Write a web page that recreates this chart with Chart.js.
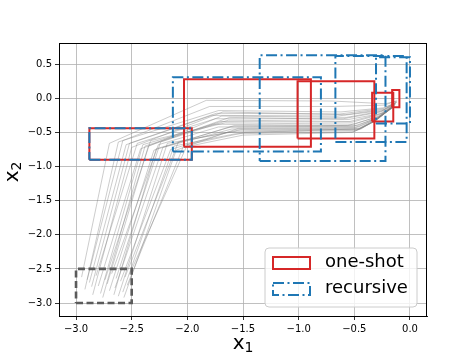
<!DOCTYPE html>
<html><head><meta charset="utf-8">
<script src="https://cdn.jsdelivr.net/npm/chart.js@4/dist/chart.umd.min.js"></script>
<style>html,body{margin:0;padding:0;background:#fff}#wrap{width:474px;height:355px;position:relative}</style>
</head><body><div id="wrap"><canvas id="c" width="474" height="355"></canvas></div>
<script>
// ---- data ----
const xTicks = [-3.0, -2.5, -2.0, -1.5, -1.0, -0.5, 0.0];
const yTicks = [-3.0, -2.5, -2.0, -1.5, -1.0, -0.5, 0.0, 0.5];
const xRange = [-3.153, 0.153];
const yRange = [-3.19, 0.81];
const seriesNames = ['one-shot', 'recursive'];
const axisNames = ['x', 'x'];
const axisSubs = ['1', '2'];
// boxes: [xmin, xmax, ymin, ymax]
const initialSet = [-3.0, -2.5, -3.0, -2.5];
const oneShotBoxes = [
  [-2.88, -1.96, -0.90, -0.44],
  [-2.03, -0.89, -0.71, 0.28],
  [-1.01, -0.32, -0.59, 0.25],
  [-0.34, -0.15, -0.34, 0.08],
  [-0.16, -0.095, -0.13, 0.12]
];
const recursiveBoxes = [
  [-2.88, -1.96, -0.90, -0.44],
  [-2.13, -0.80, -0.78, 0.31],
  [-1.35, -0.22, -0.92, 0.63],
  [-0.67, -0.03, -0.64, 0.62],
  [-0.305, 0.0, -0.37, 0.60]
];
// sampled trajectories: [x, y] per time step
const trajectories = [
  [[-2.95,-2.62],[-2.70,-0.66],[-1.83,-0.03],[-0.70,-0.04],[-0.22,-0.08],[-0.12,-0.04]],
  [[-2.92,-2.80],[-2.62,-0.64],[-1.72,-0.18],[-0.62,-0.20],[-0.24,-0.14],[-0.12,-0.06]],
  [[-2.88,-2.70],[-2.55,-0.68],[-1.78,-0.25],[-0.65,-0.26],[-0.25,-0.18],[-0.13,-0.07]],
  [[-2.85,-2.88],[-2.50,-0.72],[-1.68,-0.20],[-0.58,-0.24],[-0.23,-0.16],[-0.12,-0.05]],
  [[-2.82,-2.60],[-2.45,-0.66],[-1.75,-0.30],[-0.60,-0.30],[-0.26,-0.20],[-0.13,-0.08]],
  [[-2.80,-2.75],[-2.42,-0.74],[-1.62,-0.28],[-0.55,-0.31],[-0.25,-0.22],[-0.13,-0.09]],
  [[-2.76,-2.92],[-2.38,-0.70],[-1.70,-0.34],[-0.52,-0.35],[-0.27,-0.24],[-0.14,-0.10]],
  [[-2.74,-2.66],[-2.33,-0.62],[-1.66,-0.36],[-0.50,-0.38],[-0.28,-0.26],[-0.14,-0.11]],
  [[-2.70,-2.82],[-2.30,-0.76],[-1.58,-0.40],[-0.47,-0.40],[-0.29,-0.28],[-0.14,-0.12]],
  [[-2.68,-2.57],[-2.26,-0.68],[-1.72,-0.42],[-0.46,-0.42],[-0.30,-0.30],[-0.15,-0.12]],
  [[-2.65,-2.78],[-2.22,-0.72],[-1.60,-0.45],[-0.45,-0.44],[-0.30,-0.31],[-0.15,-0.13]],
  [[-2.62,-2.90],[-2.18,-0.66],[-1.55,-0.48],[-0.44,-0.45],[-0.31,-0.32],[-0.15,-0.13]],
  [[-2.60,-2.68],[-2.15,-0.75],[-1.64,-0.50],[-0.48,-0.47],[-0.31,-0.33],[-0.15,-0.12]],
  [[-2.58,-2.84],[-2.12,-0.70],[-1.57,-0.52],[-0.50,-0.49],[-0.32,-0.33],[-0.16,-0.13]],
  [[-2.56,-2.62],[-2.08,-0.64],[-1.52,-0.46],[-0.46,-0.46],[-0.30,-0.32],[-0.15,-0.12]],
  [[-2.54,-2.74],[-2.04,-0.72],[-1.50,-0.54],[-0.52,-0.50],[-0.32,-0.34],[-0.16,-0.13]],
  [[-2.52,-2.58],[-2.00,-0.68],[-1.48,-0.50],[-0.47,-0.45],[-0.30,-0.31],[-0.15,-0.12]],
  [[-2.90,-2.66],[-2.58,-0.62],[-1.80,-0.12],[-0.68,-0.12],[-0.23,-0.10],[-0.12,-0.04]],
  [[-2.78,-2.86],[-2.40,-0.68],[-1.76,-0.38],[-0.56,-0.40],[-0.28,-0.27],[-0.14,-0.10]],
  [[-2.72,-2.72],[-2.35,-0.70],[-1.69,-0.26],[-0.57,-0.28],[-0.26,-0.19],[-0.13,-0.08]],
  [[-2.64,-2.64],[-2.24,-0.64],[-1.63,-0.32],[-0.54,-0.34],[-0.27,-0.23],[-0.14,-0.09]],
  [[-2.57,-2.92],[-2.10,-0.76],[-1.54,-0.44],[-0.49,-0.43],[-0.30,-0.30],[-0.15,-0.11]],
  [[-2.86,-2.76],[-2.52,-0.66],[-1.74,-0.22],[-0.63,-0.23],[-0.24,-0.15],[-0.12,-0.06]],
  [[-2.66,-2.88],[-2.28,-0.74],[-1.61,-0.42],[-0.51,-0.41],[-0.29,-0.29],[-0.14,-0.11]]
];

// ---- styles ----
const RED = '#d62728', BLUE = '#1f77b4';
const FONT = "'DejaVu Sans', 'Liberation Sans', sans-serif";
const BLUE_DASH = [11, 3.5, 2, 3.5];

function boxPoints(b) {
  return [{x:b[0],y:b[2]},{x:b[1],y:b[2]},{x:b[1],y:b[3]},{x:b[0],y:b[3]},{x:b[0],y:b[2]}];
}

const datasets = [];
recursiveBoxes.forEach((b, i) => datasets.push({
  label: seriesNames[1], data: boxPoints(b), showLine: true, pointRadius: 0,
  borderColor: BLUE, borderWidth: 2, borderDash: BLUE_DASH, fill: false, order: 0,
  borderJoinStyle: 'miter', tension: 0
}));
oneShotBoxes.forEach((b, i) => datasets.push({
  label: seriesNames[0], data: boxPoints(b), showLine: true, pointRadius: 0,
  borderColor: RED, borderWidth: 2, fill: false, order: 1,
  borderJoinStyle: 'miter', tension: 0
}));
datasets.push({
  label: 'initial', data: boxPoints(initialSet), showLine: true, pointRadius: 0,
  borderColor: '#5a5a5a', borderWidth: 2.6, borderDash: [7, 3.5], fill: false, order: 2,
  borderJoinStyle: 'miter', tension: 0
});
trajectories.forEach(t => datasets.push({
  label: 'traj', data: t.map(p => ({x:p[0], y:p[1]})), showLine: true, pointRadius: 0,
  borderColor: 'rgba(128,128,128,0.5)', borderWidth: 0.8, fill: false, order: 3, tension: 0
}));

const fmt = v => (v < 0 ? '\u2212' : '') + Math.abs(v).toFixed(1);

const decor = {
  id: 'decor',
  afterDraw(chart) {
    const ctx = chart.ctx, a = chart.chartArea;
    ctx.save();
    // frame
    ctx.strokeStyle = '#000'; ctx.lineWidth = 1; ctx.setLineDash([]);
    ctx.strokeRect(Math.round(a.left) + 0.5, Math.round(a.top) + 0.5,
                   Math.round(a.right - a.left) - 1, Math.round(a.bottom - a.top));
    // axis titles
    ctx.fillStyle = '#000';
    ctx.textBaseline = 'alphabetic'; ctx.textAlign = 'left';
    const big = '20px ' + FONT, small = '14px ' + FONT;
    ctx.font = big; const wx = ctx.measureText(axisNames[0]).width;
    ctx.font = small; const ws = ctx.measureText(axisSubs[0]).width;
    const cx = (a.left + a.right) / 2, start = cx - (wx + ws) / 2;
    ctx.font = big; ctx.fillText(axisNames[0], start, 349);
    ctx.font = small; ctx.fillText(axisSubs[0], start + wx, 352);
    // y title
    ctx.save();
    ctx.translate(18, 0);
    ctx.rotate(-Math.PI / 2);
    ctx.font = big; const wy = ctx.measureText(axisNames[1]).width;
    ctx.font = small; const wys = ctx.measureText(axisSubs[1]).width;
    const cy = 172; const s2 = -cy - (wy + wys) / 2;
    ctx.font = big; ctx.fillText(axisNames[1], s2, 0);
    ctx.font = small; ctx.fillText(axisSubs[1], s2 + wy, 3);
    ctx.restore();
    // legend
    const lx = 265, ly = 248, lw = 152, lh = 59, r = 4;
    ctx.beginPath();
    ctx.moveTo(lx + r, ly); ctx.lineTo(lx + lw - r, ly); ctx.arcTo(lx + lw, ly, lx + lw, ly + r, r);
    ctx.lineTo(lx + lw, ly + lh - r); ctx.arcTo(lx + lw, ly + lh, lx + lw - r, ly + lh, r);
    ctx.lineTo(lx + r, ly + lh); ctx.arcTo(lx, ly + lh, lx, ly + lh - r, r);
    ctx.lineTo(lx, ly + r); ctx.arcTo(lx, ly, lx + r, ly, r); ctx.closePath();
    ctx.fillStyle = 'rgba(255,255,255,0.8)'; ctx.fill();
    ctx.strokeStyle = '#cccccc'; ctx.lineWidth = 1; ctx.stroke();
    // handles
    ctx.lineWidth = 2; ctx.lineJoin = 'miter';
    ctx.strokeStyle = RED; ctx.setLineDash([]);
    ctx.strokeRect(273, 257, 37, 12);
    ctx.strokeStyle = BLUE; ctx.setLineDash(BLUE_DASH);
    ctx.strokeRect(273, 283, 37, 12);
    ctx.setLineDash([]);
    ctx.fillStyle = '#000'; ctx.font = '18px ' + FONT; ctx.textBaseline = 'middle';
    ctx.fillText(seriesNames[0], 325, 262);
    ctx.fillText(seriesNames[1], 325, 288);
    ctx.restore();
  }
};

new Chart(document.getElementById('c'), {
  type: 'scatter',
  data: { datasets },
  options: {
    responsive: false, animation: false, devicePixelRatio: 1,
    layout: { padding: { left: 0, top: 43, right: 47, bottom: 0 } },
    plugins: { legend: { display: false }, tooltip: { enabled: false } },
    scales: {
      x: {
        type: 'linear', min: xRange[0], max: xRange[1],
        afterBuildTicks: s => { s.ticks = xTicks.map(v => ({ value: v })); },
        afterFit: s => { s.height = 39; },
        ticks: { callback: fmt, color: '#000', font: { family: FONT, size: 10 }, padding: 3, maxRotation: 0, autoSkip: false },
        grid: { color: '#b0b0b0', lineWidth: 0.8, tickColor: '#000', tickLength: 4, drawTicks: true },
        border: { display: true, color: '#000', width: 1 }
      },
      y: {
        type: 'linear', min: yRange[0], max: yRange[1],
        afterBuildTicks: s => { s.ticks = yTicks.map(v => ({ value: v })); },
        afterFit: s => { s.width = 59; },
        ticks: { callback: fmt, color: '#000', font: { family: FONT, size: 10 }, padding: 3, autoSkip: false },
        grid: { color: '#b0b0b0', lineWidth: 0.8, tickColor: '#000', tickLength: 4, drawTicks: true },
        border: { display: true, color: '#000', width: 1 }
      }
    }
  },
  plugins: [decor]
});
</script>
</body></html>
